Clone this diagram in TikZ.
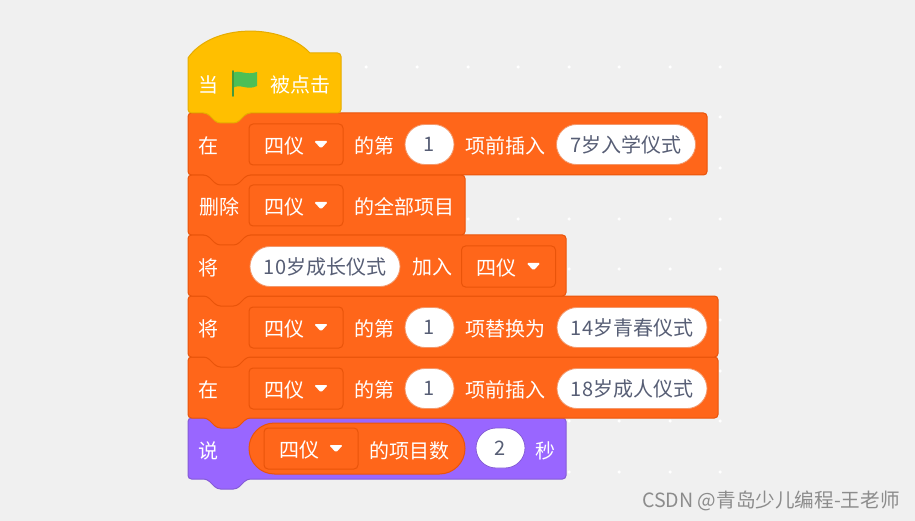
\documentclass[tikz,border=0pt]{standalone}
\usepackage{fontspec}
\setmainfont{Noto Sans CJK SC}
\usepackage{xcolor}
\definecolor{pagegray}{HTML}{F0F0F0}
\definecolor{hatyellow}{HTML}{FFBF00}
\definecolor{hatedge}{HTML}{E6AC00}
\definecolor{listorange}{HTML}{FF661A}
\definecolor{listedge}{HTML}{E9540A}
\definecolor{sayviolet}{HTML}{9966FF}
\definecolor{sayedge}{HTML}{855CD6}
\definecolor{pilltext}{HTML}{575E75}
\definecolor{flaggreen}{HTML}{4CBF56}
\definecolor{poleedge}{HTML}{45993D}
\definecolor{markgray}{HTML}{8C8C8C}
\usetikzlibrary{shapes.misc}
\tikzset{
  blocktext/.style={inner sep=0pt, yshift=-1pt, text=white, font=\fontsize{20}{20}\selectfont},
  dropbox/.style={draw=listedge, line width=1pt, fill=listorange, rounded corners=4pt, minimum width=94pt, minimum height=41pt, inner sep=0pt},
  numpill/.style={draw=listedge!60, line width=.8pt, fill=white, rounded rectangle, minimum height=40pt, inner sep=0pt, text=pilltext, font=\fontsize{20}{20}\selectfont},
  reporter/.style={draw=listedge, line width=1pt, fill=listorange, rounded rectangle, minimum width=216pt, minimum height=51pt, inner sep=0pt},
  griddot/.style={circle, fill=white, inner sep=0pt, minimum size=3.5pt}
}
\newcommand{\stackblock}[5]{%
  \filldraw[fill=#1, draw=#2, line width=1pt, rounded corners=3.5pt]
    (188,#3) -- (#5,#3) -- (#5,#4) -- (247,#4) -- (237,#4+10) -- (217,#4+10) -- (207,#4) -- (188,#4) -- cycle;
}
\newcommand{\dropmenu}[3]{%
  \node[dropbox] (#1) at (#2,#3) {};
  \node[blocktext] (#1t) at (#2-12,#3) {四仪};
  \fill[white, rounded corners=1.5pt] (#2+18,#3-3.5) -- (#2+32,#3-3.5) -- (#2+25,#3+4) -- cycle;
}
\begin{document}
\begin{tikzpicture}[x=1pt, y=-1pt]
  \useasboundingbox (0,0) rectangle (915,521);
  \fill[pagegray] (0,0) rectangle (915,521);

  % workspace dots
  \foreach \dx in {366,417,468,518,569,619,670,720} \node[griddot] at (\dx,67) {};
  \foreach \dy in {117,168} \node[griddot] at (720,\dy) {};
  \foreach \dx in {468,518,569,619,670,720} \node[griddot] at (\dx,219) {};
  \foreach \dx in {569,619,670,720} \node[griddot] at (\dx,269) {};
  \foreach \dy in {320,371} \node[griddot] at (720,\dy) {};
  \foreach \dx in {569,619,670,720} {
    \node[griddot] at (\dx,421) {};
    \node[griddot] at (\dx,472) {};
  }

  % bottom block first, each one overlaps the next
  \stackblock{sayviolet}{sayedge}{418}{479}{566}
  \stackblock{listorange}{listedge}{357}{418}{718}
  \stackblock{listorange}{listedge}{296}{357}{718}
  \stackblock{listorange}{listedge}{235}{296}{566}
  \stackblock{listorange}{listedge}{175}{235}{465}
  \stackblock{listorange}{listedge}{113}{175}{707}
  \filldraw[fill=hatyellow, draw=hatedge, line width=1pt]
    (188,58) .. controls (212,23) and (282,23) .. (310,53) [rounded corners=3.5pt] -- (341,53) -- (341,113) -- (247,113) -- (237,123) -- (217,123) -- (207,113) -- (188,113) -- (188,58);

  % hat
  \node[blocktext] (hat1) at (208,84) {当};
  \node[blocktext] (hat2) at (300,84) {被点击};
  \fill[flaggreen] (233,73) .. controls (240,69) and (245,76) .. (257,72) -- (257,86) .. controls (247,91) and (240,83) .. (233,88) -- cycle;
  \draw[poleedge, line width=1.8pt, line cap=round] (233,71) -- (233,96);

  % row 1
  \node[blocktext] (a1) at (208,144.5) {在};
  \dropmenu{a2}{296}{144.5}
  \node[blocktext] (a3) at (374,144.5) {的第};
  \node[numpill, minimum width=49pt] (a4) at (429.5,144.5) {1};
  \node[blocktext] (a5) at (505,144.5) {项前插入};
  \node[numpill, minimum width=139pt] (a6) at (626,144.5) {7岁入学仪式};

  % row 2
  \node[blocktext] (b1) at (219,205.5) {删除};
  \dropmenu{b2}{296}{205.5}
  \node[blocktext] (b3) at (404,205.5) {的全部项目};

  % row 3
  \node[blocktext] (c1) at (208,266.5) {将};
  \node[numpill, minimum width=150pt] (c2) at (325,266.5) {10岁成长仪式};
  \node[blocktext] (c3) at (432,266.5) {加入};
  \dropmenu{c4}{508.5}{266.5}

  % row 4
  \node[blocktext] (d1) at (208,327.5) {将};
  \dropmenu{d2}{296}{327.5}
  \node[blocktext] (d3) at (374,327.5) {的第};
  \node[numpill, minimum width=49pt] (d4) at (429.5,327.5) {1};
  \node[blocktext] (d5) at (505,327.5) {项替换为};
  \node[numpill, minimum width=150pt] (d6) at (632,327.5) {14岁青春仪式};

  % row 5
  \node[blocktext] (e1) at (208,388.5) {在};
  \dropmenu{e2}{296}{388.5}
  \node[blocktext] (e3) at (374,388.5) {的第};
  \node[numpill, minimum width=49pt] (e4) at (429.5,388.5) {1};
  \node[blocktext] (e5) at (505,388.5) {项前插入};
  \node[numpill, minimum width=150pt] (e6) at (632,388.5) {18岁成人仪式};

  % row 6
  \node[blocktext] (f1) at (208,449.5) {说};
  \node[reporter] (f2) at (357,448.5) {};
  \dropmenu{f3}{311}{448.5}
  \node[blocktext] (f4) at (409,449.5) {的项目数};
  \node[numpill, minimum width=49pt, draw=sayedge] (f5) at (500.5,448) {2};
  \node[blocktext] (f6) at (545,449.5) {秒};

  \node[inner sep=0pt, text=markgray, font=\fontsize{19.6}{20}\selectfont] (wm) at (771,501) {CSDN @青岛少儿编程-王老师};
\end{tikzpicture}
\end{document}
